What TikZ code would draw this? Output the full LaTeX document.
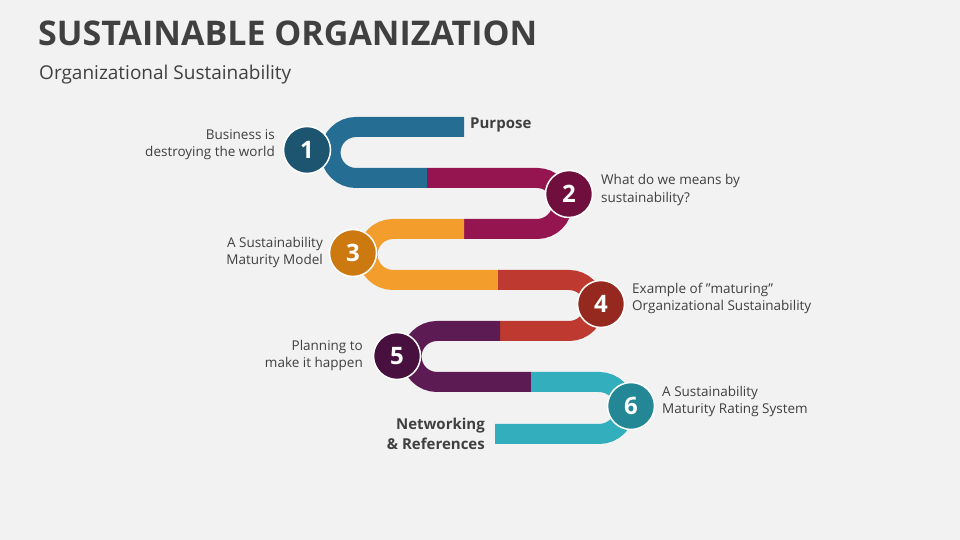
\documentclass[tikz,border=0pt]{standalone}
\usepackage{fontspec}
\setmainfont{Open Sans}
\begin{document}
\begin{tikzpicture}[x=1pt,y=1pt,
  band/.style={line width=20pt,line cap=butt},
  num/.style={circle,draw=white,line width=1.5pt,minimum size=47pt,inner sep=0pt,text=white,font=\fontsize{24}{24}\selectfont\bfseries},
  lbl/.style={font=\fontsize{13.5}{17}\selectfont,text=black!75,inner sep=0pt},
  blbl/.style={font=\fontsize{15}{20}\selectfont\bfseries,text=black!75,inner sep=0pt}]
\definecolor{cB}{HTML}{266D94}\definecolor{cBd}{HTML}{1D5470}
\definecolor{cM}{HTML}{951550}\definecolor{cMd}{HTML}{700E3E}
\definecolor{cO}{HTML}{F29D2C}\definecolor{cOd}{HTML}{CC7A10}
\definecolor{cR}{HTML}{BE3A30}\definecolor{cRd}{HTML}{952920}
\definecolor{cP}{HTML}{5C1B52}\definecolor{cPd}{HTML}{48103F}
\definecolor{cT}{HTML}{33AEBD}\definecolor{cTd}{HTML}{248795}
\fill[black!5] (0,0) rectangle (960,540);
\useasboundingbox (0,0) rectangle (960,540);
\node[anchor=base west,inner sep=0pt,text=black!75,font=\fontsize{34}{34}\selectfont\bfseries] (title) at (38,494) {SUSTAINABLE ORGANIZATION};
\node[anchor=base west,inner sep=0pt,text=black!75,font=\fontsize{19}{19}\selectfont] (sub) at (39,460) {Organizational Sustainability};
% bands
\draw[band,cB] (464,413) -- (356,413) arc[start angle=90,end angle=270,radius=25.5pt] -- (427,362);
\draw[band,cM] (427,362) -- (537,362) arc[start angle=90,end angle=-90,radius=25.5pt] -- (464,311);
\draw[band,cO] (464,311) -- (393,311) arc[start angle=90,end angle=270,radius=25.5pt] -- (498,260);
\draw[band,cR] (498,260) -- (569,260) arc[start angle=90,end angle=-90,radius=25.5pt] -- (500,209);
\draw[band,cP] (500,209) -- (437,209) arc[start angle=90,end angle=270,radius=25.5pt] -- (531,158);
\draw[band,cT] (531,158) -- (599,158) arc[start angle=90,end angle=-90,radius=26pt] -- (495,106);
% circles
\node[num,fill=cBd] (n1) at (307,390) {1};
\node[num,fill=cMd] (n2) at (569,346) {2};
\node[num,fill=cOd] (n3) at (353,287) {3};
\node[num,fill=cRd] (n4) at (601,236) {4};
\node[num,fill=cPd] (n5) at (397,184) {5};
\node[num,fill=cTd] (n6) at (631,134) {6};
% labels
\node[lbl,anchor=east,align=right] (l1) at (275,395) {Business is\\destroying the world};
\node[blbl,anchor=west] (l0) at (470,415) {Purpose};
\node[lbl,anchor=west,align=left] (l2) at (601,350) {What do we means by\\sustainability?};
\node[lbl,anchor=east,align=right] (l3) at (323,288) {A Sustainability\\Maturity Model};
\node[lbl,anchor=west,align=left] (l4) at (632,242) {Example of "maturing"\\Organizational Sustainability};
\node[lbl,anchor=east,align=right] (l5) at (363,185) {Planning to\\make it happen};
\node[lbl,anchor=west,align=left] (l6) at (662,139) {A Sustainability\\Maturity Rating System};
\node[blbl,anchor=east,align=right] (l7) at (485,106) {Networking\\\& References};
\end{tikzpicture}
\end{document}
